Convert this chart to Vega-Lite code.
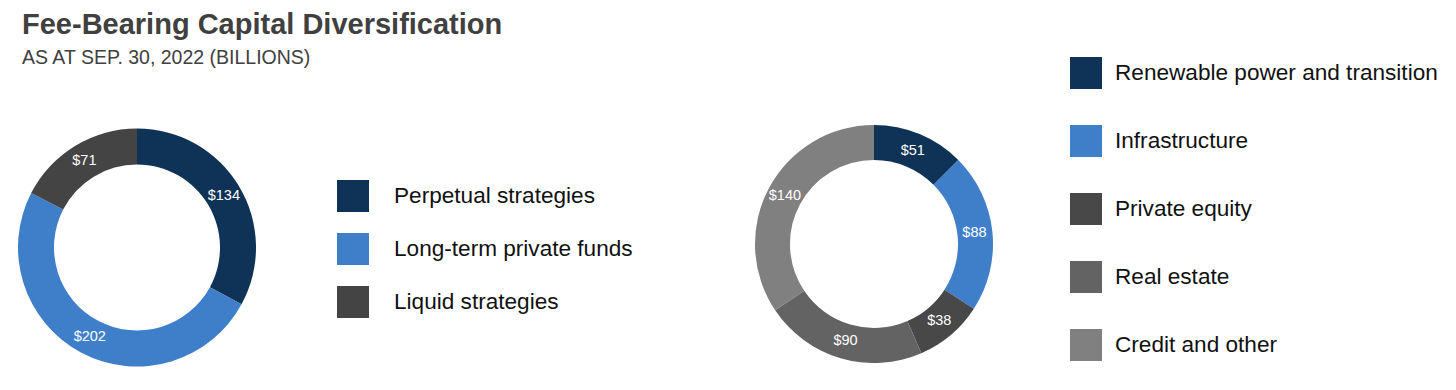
{
  "$schema": "https://vega.github.io/schema/vega-lite/v6.json",
  "background": "white",
  "padding": {"left": 17, "top": 10, "right": 5, "bottom": 5},
  "title": {
    "text": "Fee-Bearing Capital Diversification",
    "subtitle": "AS AT SEP. 30, 2022 (BILLIONS)",
    "anchor": "start",
    "dx": 5,
    "offset": -10,
    "font": "Liberation Sans",
    "fontSize": 29,
    "fontWeight": "bold",
    "color": "#404040",
    "subtitleFont": "Liberation Sans",
    "subtitleFontSize": 19.5,
    "subtitleColor": "#404040",
    "subtitlePadding": 9
  },
  "datasets": {
    "strategy": [
      {"category": "Perpetual strategies", "value": 134, "order": 1},
      {"category": "Long-term private funds", "value": 202, "order": 2},
      {"category": "Liquid strategies", "value": 71, "order": 3}
    ],
    "sector": [
      {"category": "Renewable power and transition", "value": 51, "order": 1},
      {"category": "Infrastructure", "value": 88, "order": 2},
      {"category": "Private equity", "value": 38, "order": 3},
      {"category": "Real estate", "value": 90, "order": 4},
      {"category": "Credit and other", "value": 140, "order": 5}
    ]
  },
  "spacing": 497,
  "bounds": "flush",
  "hconcat": [
    {
      "width": 240,
      "height": 247,
      "data": {"name": "strategy"},
      "encoding": {
        "theta": {"field": "value", "type": "quantitative", "stack": true},
        "order": {"field": "order", "type": "quantitative"},
        "color": {
          "field": "category",
          "type": "nominal",
          "scale": {
            "domain": ["Perpetual strategies", "Long-term private funds", "Liquid strategies"],
            "range": ["#0f3356", "#3f7fca", "#444444"]
          },
          "legend": {"orient": "none", "legendX": 320, "legendY": 56, "title": null, "rowPadding": 21, "labelOffset": 25}
        }
      },
      "layer": [
        {"mark": {"type": "arc", "outerRadius": 119, "innerRadius": 83}},
        {
          "mark": {"type": "text", "radius": 101, "fontSize": 14.5, "font": "Liberation Sans"},
          "encoding": {
            "color": {"value": "#ffffff"},
            "text": {"field": "value", "type": "quantitative", "format": "$,.0f"}
          }
        }
      ]
    },
    {
      "width": 240,
      "height": 240,
      "data": {"name": "sector"},
      "encoding": {
        "theta": {"field": "value", "type": "quantitative", "stack": true},
        "order": {"field": "order", "type": "quantitative"},
        "color": {
          "field": "category",
          "type": "nominal",
          "scale": {
            "domain": ["Renewable power and transition", "Infrastructure", "Private equity", "Real estate", "Credit and other"],
            "range": ["#0f3356", "#3f7fca", "#484848", "#636363", "#808080"]
          },
          "legend": {"orient": "none", "legendX": 316, "legendY": -67, "title": null, "rowPadding": 36, "labelOffset": 13}
        }
      },
      "layer": [
        {"mark": {"type": "arc", "outerRadius": 119, "innerRadius": 84}},
        {
          "mark": {"type": "text", "radius": 101, "fontSize": 14.5, "font": "Liberation Sans"},
          "encoding": {
            "color": {"value": "#ffffff"},
            "text": {"field": "value", "type": "quantitative", "format": "$,.0f"}
          }
        }
      ]
    }
  ],
  "resolve": {"scale": {"color": "independent"}},
  "config": {
    "view": {"stroke": null},
    "legend": {
      "labelFont": "Liberation Sans",
      "labelFontSize": 22.6,
      "labelColor": "#111111",
      "symbolType": "square",
      "symbolSize": 1024,
      "symbolStrokeWidth": 0,
      "symbolOpacity": 1,
      "labelLimit": 400,
      "padding": 0
    }
  }
}
